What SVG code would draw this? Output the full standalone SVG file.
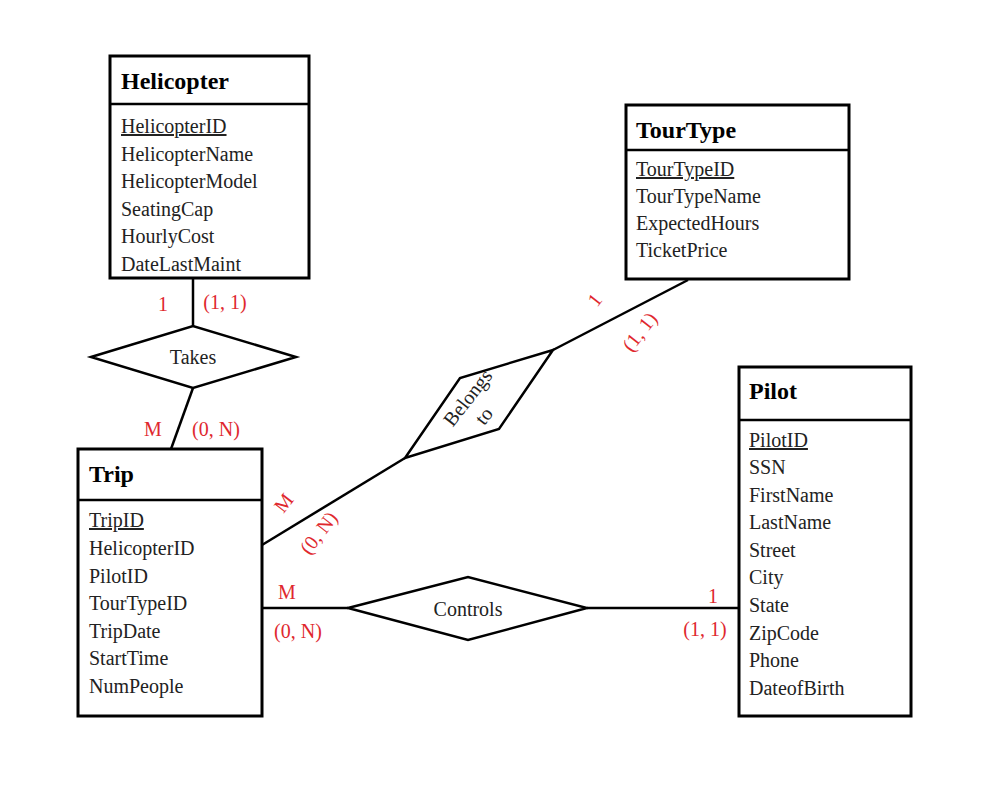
<svg xmlns="http://www.w3.org/2000/svg" width="991" height="785" viewBox="0 0 991 785">
<style>
.box{fill:#fff;stroke:#000;stroke-width:3}
.ln{stroke:#000;stroke-width:2.5;fill:none}
.t{font-family:"Liberation Serif",serif;font-size:24px;font-weight:bold}
.a{font-family:"Liberation Serif",serif;font-size:20px;fill:#222}
.r{font-family:"Liberation Serif",serif;font-size:20px;fill:#e0282e}
.d{fill:#fff;stroke:#000;stroke-width:2.5}
</style>
<rect width="991" height="785" fill="#fff"/>
<g id="connectors">
<line class="ln" x1="193" y1="278" x2="193" y2="326"/>
<line class="ln" x1="193" y1="388" x2="171" y2="449"/>
<line class="ln" x1="262" y1="545" x2="405" y2="458"/>
<line class="ln" x1="553" y1="350" x2="688" y2="280"/>
<line class="ln" x1="262" y1="608" x2="348" y2="608"/>
<line class="ln" x1="587" y1="608" x2="739" y2="608"/>
</g>
<g id="helicopter">
<rect class="box" x="110" y="56" width="199" height="222"/>
<line class="ln" x1="110" y1="104" x2="309" y2="104"/>
<text class="t" x="121" y="89">Helicopter</text>
<text class="a" x="121" y="133" text-decoration="underline">HelicopterID</text>
<text class="a" x="121" y="161">HelicopterName</text>
<text class="a" x="121" y="188">HelicopterModel</text>
<text class="a" x="121" y="216">SeatingCap</text>
<text class="a" x="121" y="243">HourlyCost</text>
<text class="a" x="121" y="271">DateLastMaint</text>
</g>
<g id="tourtype">
<rect class="box" x="626" y="105" width="223" height="174"/>
<line class="ln" x1="626" y1="150" x2="849" y2="150"/>
<text class="t" x="636" y="138">TourType</text>
<text class="a" x="636" y="176" text-decoration="underline">TourTypeID</text>
<text class="a" x="636" y="203">TourTypeName</text>
<text class="a" x="636" y="230">ExpectedHours</text>
<text class="a" x="636" y="257">TicketPrice</text>
</g>
<g id="pilot">
<rect class="box" x="739" y="367" width="172" height="349"/>
<line class="ln" x1="739" y1="420" x2="911" y2="420"/>
<text class="t" x="749" y="399">Pilot</text>
<text class="a" x="749" y="447" text-decoration="underline">PilotID</text>
<text class="a" x="749" y="474">SSN</text>
<text class="a" x="749" y="502">FirstName</text>
<text class="a" x="749" y="529">LastName</text>
<text class="a" x="749" y="557">Street</text>
<text class="a" x="749" y="584">City</text>
<text class="a" x="749" y="612">State</text>
<text class="a" x="749" y="640">ZipCode</text>
<text class="a" x="749" y="667">Phone</text>
<text class="a" x="749" y="695">DateofBirth</text>
</g>
<g id="trip">
<rect class="box" x="78" y="449" width="184" height="267"/>
<line class="ln" x1="78" y1="500" x2="262" y2="500"/>
<text class="t" x="89" y="482">Trip</text>
<text class="a" x="89" y="527" text-decoration="underline">TripID</text>
<text class="a" x="89" y="555">HelicopterID</text>
<text class="a" x="89" y="583">PilotID</text>
<text class="a" x="89" y="610">TourTypeID</text>
<text class="a" x="89" y="638">TripDate</text>
<text class="a" x="89" y="665">StartTime</text>
<text class="a" x="89" y="693">NumPeople</text>
</g>
<g id="takes">
<polygon class="d" points="91,357 193,326 296,357 193,388"/>
<text class="a" x="193" y="364" text-anchor="middle">Takes</text>
<text class="r" x="163" y="311" text-anchor="middle">1</text>
<text class="r" x="225" y="309" text-anchor="middle">(1, 1)</text>
<text class="r" x="153" y="436" text-anchor="middle">M</text>
<text class="r" x="216" y="436" text-anchor="middle">(0, N)</text>
</g>
<g id="belongs">
<polygon class="d" points="405,458 460,378 553,350 499,429"/>
<text class="a" x="473" y="402" text-anchor="middle" font-size="17" transform="rotate(-52 473 402)">Belongs</text>
<text class="a" x="489" y="420" text-anchor="middle" font-size="17" transform="rotate(-52 489 420)">to</text>
<text class="r" x="600" y="304" text-anchor="middle" transform="rotate(-52 600 304)">1</text>
<text class="r" x="645" y="336" text-anchor="middle" transform="rotate(-52 645 336)">(1, 1)</text>
<text class="r" x="289" y="507" text-anchor="middle" transform="rotate(-52 289 507)">M</text>
<text class="r" x="324" y="537" text-anchor="middle" transform="rotate(-52 324 537)">(0, N)</text>
</g>
<g id="controls">
<polygon class="d" points="348,608 468,577 587,608 468,640"/>
<text class="a" x="468" y="616" text-anchor="middle">Controls</text>
<text class="r" x="287" y="599" text-anchor="middle">M</text>
<text class="r" x="298" y="638" text-anchor="middle">(0, N)</text>
<text class="r" x="713" y="603" text-anchor="middle">1</text>
<text class="r" x="705" y="636" text-anchor="middle">(1, 1)</text>
</g>
</svg>
